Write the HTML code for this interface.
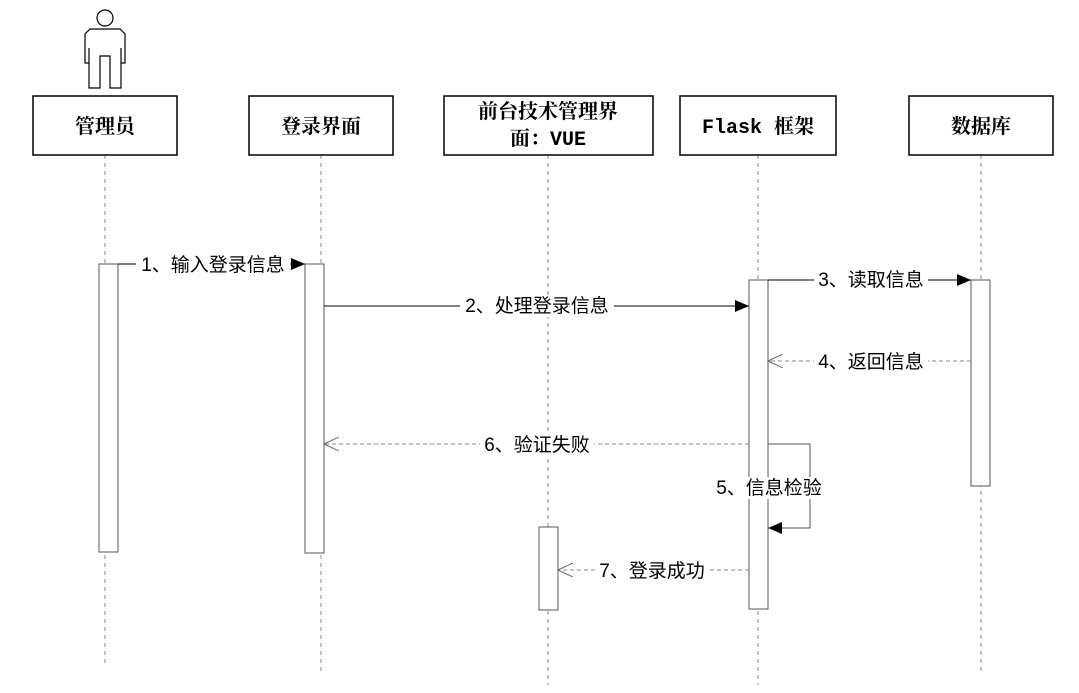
<!DOCTYPE html>
<html><head><meta charset="utf-8"><style>
html,body{margin:0;padding:0;background:#fff;}
svg{display:block;}
.t{font-family:"Liberation Mono","Noto Serif CJK SC",serif;font-size:20px;font-weight:bold;fill:#000;}
.l{font-family:"Liberation Sans","Noto Sans CJK SC",sans-serif;font-size:19px;fill:#000;}
</style></head><body>
<svg width="1079" height="693" viewBox="0 0 1079 693" xmlns="http://www.w3.org/2000/svg">
<defs>
<marker id="f" markerWidth="14" markerHeight="12" refX="14" refY="6" orient="auto" markerUnits="userSpaceOnUse"><path d="M0,0 L14,6 L0,12 Z" fill="#000"/></marker>
<marker id="o" markerWidth="16" markerHeight="14" refX="15" refY="7" orient="auto" markerUnits="userSpaceOnUse"><path d="M0,0 L15,7 L0,14" fill="none" stroke="#666" stroke-width="1"/></marker>
</defs>
<g fill="none" stroke="#000" stroke-width="1.2">
<circle cx="105" cy="18" r="8"/>
<path d="M90,29 L120,29 L125,34 L125,63 L121,63 L121,48 L121,88 L110,88 L110,56 L100,56 L100,88 L89,88 L89,48 L89,63 L85,63 L85,34 Z"/>
</g>
<g stroke="#888" stroke-dasharray="4,4" stroke-width="1">
<line x1="105" y1="155" x2="105" y2="665"/>
<line x1="321" y1="155" x2="321" y2="675"/>
<line x1="548" y1="155" x2="548" y2="685"/>
<line x1="758" y1="155" x2="758" y2="685"/>
<line x1="981" y1="155" x2="981" y2="675"/>
</g>
<g fill="#fff" stroke="#000" stroke-width="1.5">
<rect x="33" y="96" width="144" height="59"/>
<rect x="249" y="96" width="144" height="59"/>
<rect x="444" y="96" width="209" height="59"/>
<rect x="680" y="96" width="156" height="59"/>
<rect x="909" y="96" width="144" height="59"/>
</g>
<text class="t" x="105" y="133" text-anchor="middle">管理员</text>
<text class="t" x="321" y="133" text-anchor="middle">登录界面</text>
<text class="t" x="548" y="118" text-anchor="middle">前台技术管理界</text>
<text class="t" x="548" y="145" text-anchor="middle">面：VUE</text>
<text class="t" x="758" y="133" text-anchor="middle">Flask 框架</text>
<text class="t" x="981" y="133" text-anchor="middle">数据库</text>
<g fill="#fff" stroke="#555" stroke-width="1">
<rect x="99" y="264" width="19" height="288"/>
<rect x="305" y="264" width="19" height="289"/>
<rect x="539" y="527" width="19" height="83"/>
<rect x="749" y="280" width="19" height="329"/>
<rect x="971" y="280" width="19" height="206"/>
</g>
<g stroke-width="1">
<line x1="118" y1="264" x2="305" y2="264" stroke="#000" marker-end="url(#f)"/>
<line x1="324" y1="306" x2="749" y2="306" stroke="#000" marker-end="url(#f)"/>
<line x1="768" y1="280" x2="971" y2="280" stroke="#000" marker-end="url(#f)"/>
<line x1="971" y1="361" x2="768" y2="361" stroke="#888" stroke-dasharray="4,3" marker-end="url(#o)"/>
<line x1="749" y1="444" x2="324" y2="444" stroke="#888" stroke-dasharray="4,3" marker-end="url(#o)"/>
<polyline points="768,444 810,444 810,528 768,528" fill="none" stroke="#555" marker-end="url(#f)"/>
<line x1="749" y1="570" x2="558" y2="570" stroke="#888" stroke-dasharray="4,3" marker-end="url(#o)"/>
</g>
<g>
<rect x="136" y="254" width="154" height="22" fill="#fff"/>
<text class="l" x="213" y="271" text-anchor="middle">1、输入登录信息</text>
<rect x="460" y="295" width="154" height="22" fill="#fff"/>
<text class="l" x="537" y="312" text-anchor="middle">2、处理登录信息</text>
<rect x="814" y="269" width="114" height="22" fill="#fff"/>
<text class="l" x="871" y="286" text-anchor="middle">3、读取信息</text>
<rect x="814" y="350" width="114" height="22" fill="#fff"/>
<text class="l" x="871" y="368" text-anchor="middle">4、返回信息</text>
<rect x="480" y="433" width="114" height="22" fill="#fff"/>
<text class="l" x="537" y="451" text-anchor="middle">6、验证失败</text>
<rect x="712" y="477" width="114" height="22" fill="#fff"/>
<text class="l" x="769" y="494" text-anchor="middle">5、信息检验</text>
<rect x="596" y="559" width="114" height="22" fill="#fff"/>
<text class="l" x="652" y="577" text-anchor="middle">7、登录成功</text>
</g>
</svg>
</body></html>
